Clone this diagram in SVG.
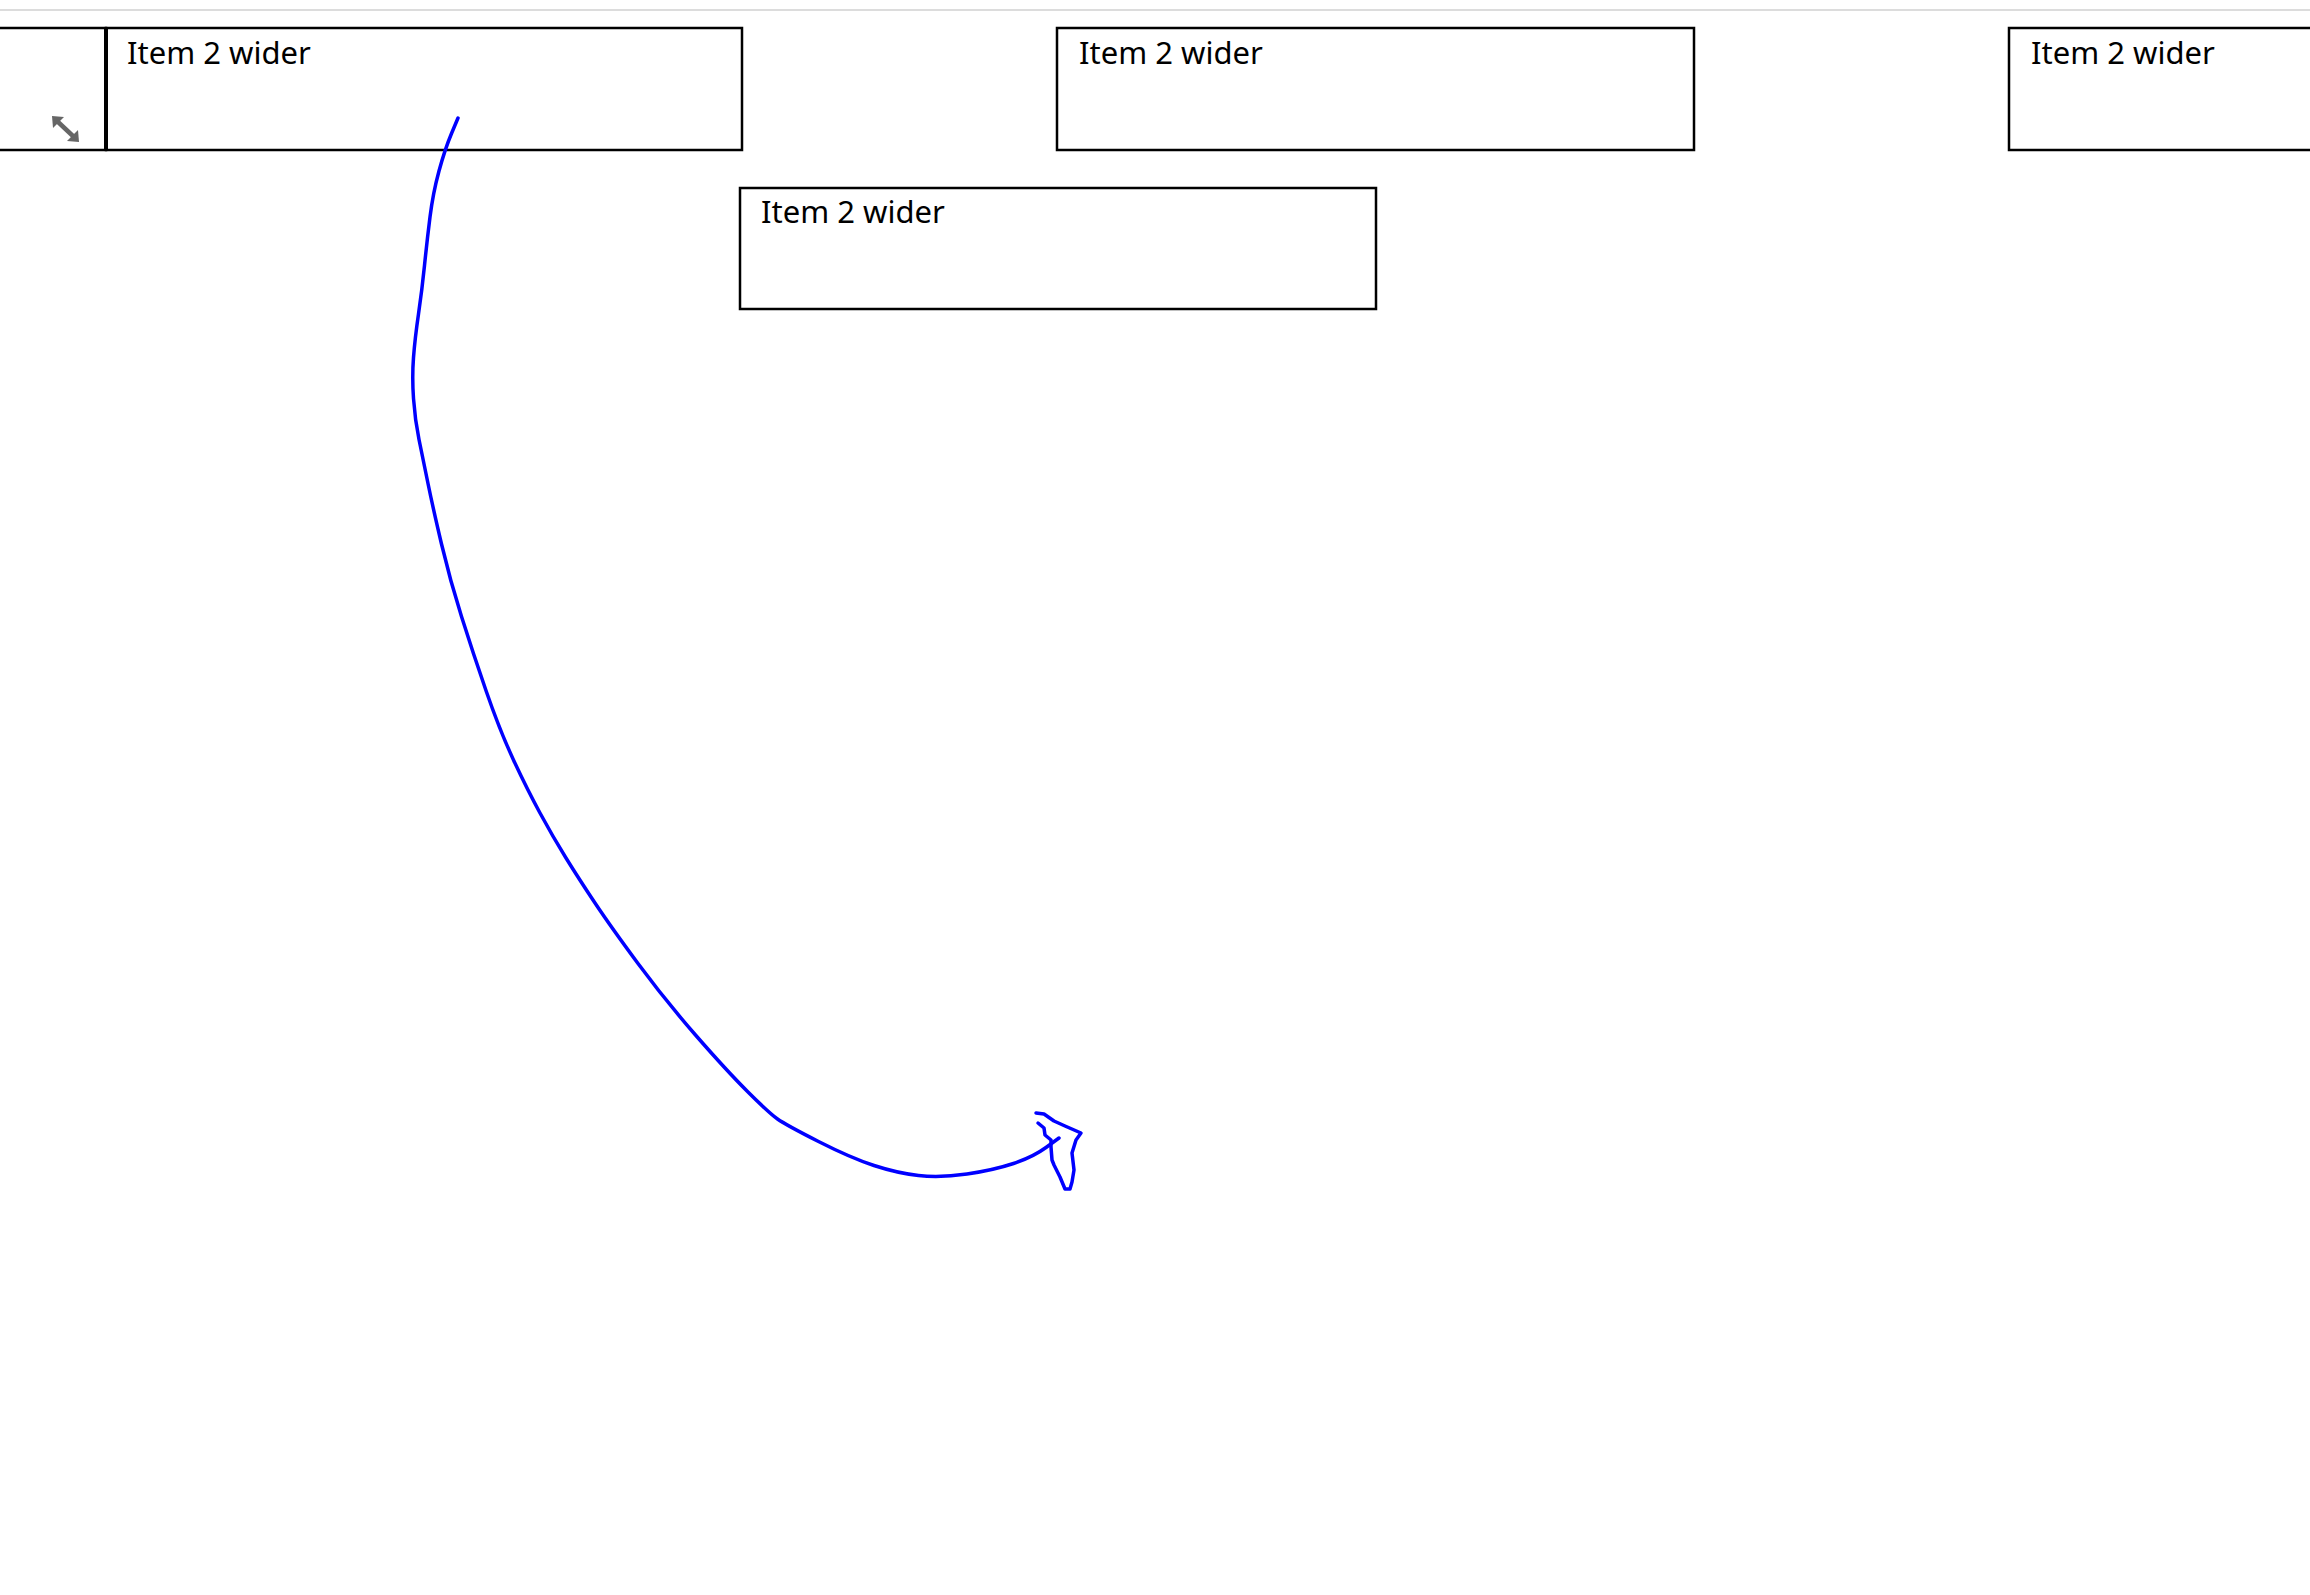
<svg xmlns="http://www.w3.org/2000/svg" width="2310" height="1595" viewBox="0 0 2310 1595">
<style>
.box{fill:#fff;stroke:#000;stroke-width:2.5}
.lbl{font-family:"Noto Sans","Open Sans",sans-serif;font-size:31px;fill:#000}
.conn{fill:none;stroke:#0000ff;stroke-width:3.5;stroke-linecap:round;stroke-linejoin:round}
</style>
<rect x="0" y="0" width="2310" height="1595" fill="#fff"/>
<line x1="0" y1="10" x2="2310" y2="10" stroke="#dcdcdc" stroke-width="2"/>
<g id="node-left">
<rect class="box" x="-10" y="28" width="116" height="122"/>
<g fill="#666" stroke="#666">
<line x1="57" y1="121" x2="74" y2="137" stroke-width="4.5"/>
<polygon points="52,116 64,117 53,128" stroke="none"/>
<polygon points="79,142 67,141 78,130" stroke="none"/>
</g>
</g>
<g id="node-1">
<rect class="box" x="106" y="28" width="636" height="122"/>
<line x1="106" y1="28" x2="106" y2="150" stroke="#000" stroke-width="4"/>
<text class="lbl" x="127" y="64">Item 2 wider</text>
</g>
<g id="node-2">
<rect class="box" x="1057" y="28" width="637" height="122"/>
<text class="lbl" x="1079" y="64">Item 2 wider</text>
</g>
<g id="node-3">
<rect class="box" x="2009" y="28" width="320" height="122"/>
<text class="lbl" x="2031" y="64">Item 2 wider</text>
</g>
<g id="node-4">
<rect class="box" x="740" y="188" width="636" height="121"/>
<text class="lbl" x="761" y="223">Item 2 wider</text>
</g>
<g id="connectors">
<path class="conn" d="M458,118 L451.5,133.5 Q445,149 439,171 Q433,193 430,217 Q427,241 424.5,265.5 Q422,290 418.5,314 Q415,338 413.5,357.5 Q412,377 413.5,398.5 Q415,420 419,439.5 Q423,459 428,483.5 Q433,508 441.5,544 Q450,580 461.5,616.5 Q473,653 486.5,692 Q500,731 513.5,760 Q527,789 540,813 Q553,837 566,858 Q579,879 595,903 Q611,927 638,963.5 Q665,1000 695.5,1035 Q726,1070 747.5,1091.5 Q769,1113 777.5,1119 Q786,1125 818.5,1141.5 Q851,1158 874,1165.5 Q897,1173 918.5,1175.5 Q940,1178 967,1174 Q994,1170 1013.5,1163.5 Q1033,1157 1046,1147.5 L1059,1138"/>
<path class="conn" d="M1036,1113 L1044,1114 L1054,1121 L1065,1126 L1081,1133 L1076,1140 L1072,1153 L1074,1170 L1072,1182 L1070,1189 L1065,1189 L1060,1177 L1054,1165 L1052,1160 L1051,1147 L1051,1140 L1045,1135 L1044,1128 L1038,1123"/>
</g>
</svg>
